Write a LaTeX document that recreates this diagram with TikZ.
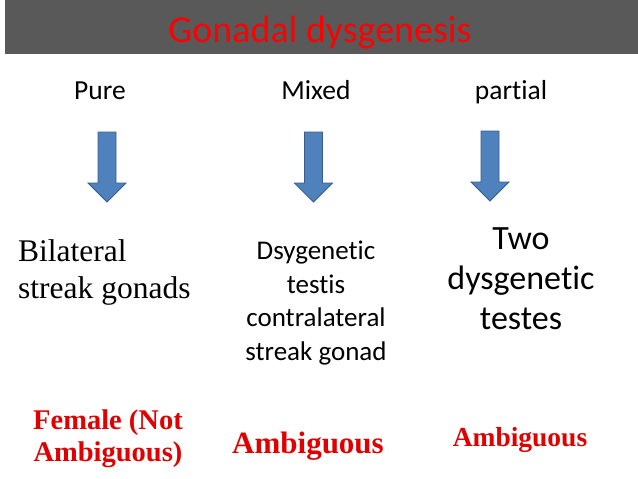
\documentclass[tikz,border=0pt]{standalone}
\usepackage{fontspec}
\setmainfont{Liberation Serif}
\newfontfamily\carlito[Ligatures=NoCommon]{Carlito}
\definecolor{bargray}{HTML}{595959}
\definecolor{titlered}{HTML}{FF0000}
\definecolor{deepred}{HTML}{E00000}
\definecolor{arrowblue}{HTML}{4F81BD}
\definecolor{arrowedge}{HTML}{385D8A}

\begin{document}
\begin{tikzpicture}
  [x=1pt,y=-1pt,inner sep=0pt,
   kind/.style={font=\carlito\fontsize{27.5}{33}\selectfont,anchor=base},
   gonad/.style={align=center,anchor=north},
   outcome/.style={text=deepred,align=center,anchor=north}]
  \useasboundingbox (0,0) rectangle (638,479);
  \fill[bargray] (5,0) rectangle (638,54);
  \node[font=\carlito\fontsize{38}{44}\selectfont,text=titlered,anchor=base] (title) at (320,42) {Gonadal dysgenesis};

  % the three kinds
  \node[kind] (pure) at (100,99) {Pure};
  \node[kind] (mixed) at (316,99) {Mixed};
  \node[kind] (partial) at (511,99) {partial};

  % block arrows
  \foreach \x/\y in {107/132,313.5/132,490/131}
    \draw[draw=arrowedge,fill=arrowblue,line width=0.8pt]
      (\x-9,\y) -- ++(18,0) -- ++(0,51) -- ++(10,0) -- ++(-19,19) -- ++(-19,-19) -- ++(10,0) -- cycle;

  % gonads
  \node[gonad,align=left,anchor=north west,font=\fontsize{31.5}{37}\selectfont] (bilat) at (18,239) {Bilateral\\streak gonads};
  \node[gonad,font=\carlito\fontsize{27}{33.5}\selectfont] (dysg) at (316,241) {Dsygenetic\\testis\\contralateral\\streak gonad};
  \node[gonad,font=\carlito\fontsize{34}{40}\selectfont] (testes) at (521,227) {Two\\dysgenetic\\testes};

  % phenotype
  \node[outcome,font=\bfseries\fontsize{28.5}{32}\selectfont] (female) at (108,410) {Female (Not\\Ambiguous)};
  \node[outcome,font=\bfseries\fontsize{31}{36}\selectfont] (ambig1) at (308,432) {Ambiguous};
  \node[outcome,font=\bfseries\fontsize{27.5}{33}\selectfont] (ambig2) at (520,427) {Ambiguous};
\end{tikzpicture}
\end{document}
